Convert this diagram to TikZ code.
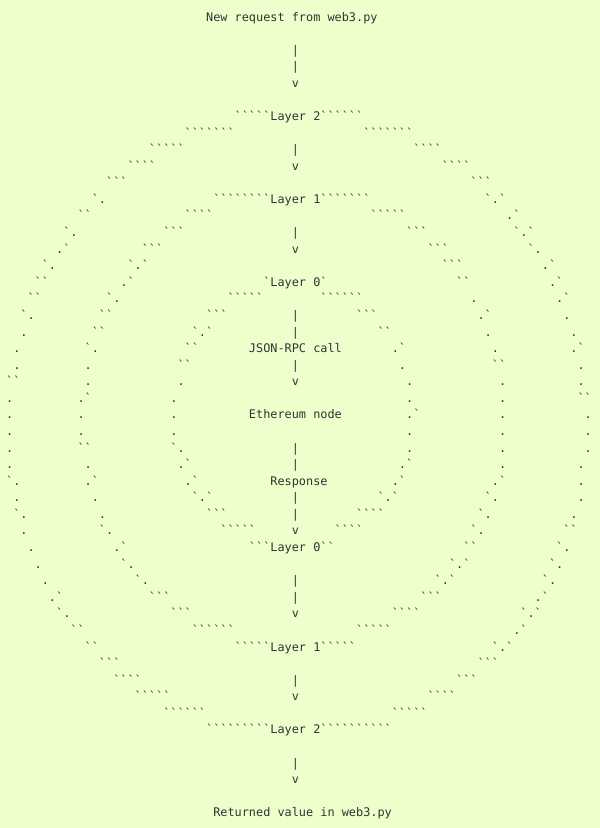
\documentclass[tikz,border=0pt]{standalone}
\usepackage{fontspec}
\newfontfamily\asciifont{DejaVu Sans Mono}[Ligatures=TeXOff]
\definecolor{bgcol}{HTML}{EEFFCC}
\definecolor{txtcol}{HTML}{333333}
\tikzset{
  txt/.style={anchor=base west, inner sep=0pt, outer sep=0pt, text=txtcol,
    font=\asciifont\fontsize{11.864}{14}\selectfont}
}
\newcommand\seg[3]{\node[txt] (r#1c#2) at ({6.13+7.143*#2},{-(21.0+16.58*#1)}) {#3};}
\begin{document}
\begin{tikzpicture}[x=1pt,y=1pt]
\fill[bgcol] (0,0) rectangle (600,-828);
\useasboundingbox (0,0) rectangle (600,-828);
\seg{0}{28}{New request from web3.py}
\seg{2}{40}{|}
\seg{3}{40}{|}
\seg{4}{40}{v}
\seg{6}{32}{`````Layer 2``````}
\seg{7}{25}{```````}\seg{7}{50}{```````}
\seg{8}{20}{`````}\seg{8}{40}{|}\seg{8}{57}{````}
\seg{9}{17}{````}\seg{9}{40}{v}\seg{9}{61}{````}
\seg{10}{14}{```}\seg{10}{65}{```}
\seg{11}{12}{`.}\seg{11}{29}{````````Layer 1```````}\seg{11}{67}{`.`}
\seg{12}{10}{``}\seg{12}{25}{````}\seg{12}{51}{`````}\seg{12}{70}{.`}
\seg{13}{8}{`.}\seg{13}{22}{```}\seg{13}{40}{|}\seg{13}{56}{```}\seg{13}{71}{`.`}
\seg{14}{7}{.`}\seg{14}{19}{```}\seg{14}{40}{v}\seg{14}{59}{```}\seg{14}{73}{`.}
\seg{15}{5}{`.}\seg{15}{17}{`.`}\seg{15}{61}{```}\seg{15}{75}{.`}
\seg{16}{4}{``}\seg{16}{16}{.`}\seg{16}{36}{`Layer 0`}\seg{16}{63}{``}\seg{16}{76}{.`}
\seg{17}{3}{``}\seg{17}{14}{`.}\seg{17}{31}{`````}\seg{17}{44}{``````}\seg{17}{65}{.}\seg{17}{77}{.`}
\seg{18}{2}{`.}\seg{18}{13}{``}\seg{18}{28}{```}\seg{18}{40}{|}\seg{18}{49}{```}\seg{18}{66}{.`}\seg{18}{78}{.}
\seg{19}{2}{.}\seg{19}{12}{``}\seg{19}{26}{`.`}\seg{19}{40}{|}\seg{19}{52}{``}\seg{19}{67}{.}\seg{19}{79}{.}
\seg{20}{1}{.}\seg{20}{11}{`.}\seg{20}{25}{``}\seg{20}{34}{JSON-RPC call}\seg{20}{54}{.`}\seg{20}{68}{.}\seg{20}{79}{.`}
\seg{21}{1}{.}\seg{21}{11}{.}\seg{21}{24}{``}\seg{21}{40}{|}\seg{21}{55}{.}\seg{21}{68}{``}\seg{21}{80}{.}
\seg{22}{0}{``}\seg{22}{11}{.}\seg{22}{24}{.}\seg{22}{40}{v}\seg{22}{56}{.}\seg{22}{69}{.}\seg{22}{80}{.}
\seg{23}{0}{.}\seg{23}{10}{.`}\seg{23}{23}{.}\seg{23}{56}{.}\seg{23}{69}{.}\seg{23}{80}{``}
\seg{24}{0}{.}\seg{24}{10}{.}\seg{24}{23}{.}\seg{24}{34}{Ethereum node}\seg{24}{56}{.`}\seg{24}{69}{.}\seg{24}{81}{.}
\seg{25}{0}{.}\seg{25}{10}{.}\seg{25}{23}{.}\seg{25}{56}{.}\seg{25}{69}{.}\seg{25}{81}{.}
\seg{26}{0}{.}\seg{26}{10}{``}\seg{26}{23}{`.}\seg{26}{40}{|}\seg{26}{56}{.}\seg{26}{69}{.}\seg{26}{81}{.}
\seg{27}{0}{.}\seg{27}{11}{.}\seg{27}{24}{.`}\seg{27}{40}{|}\seg{27}{55}{.`}\seg{27}{69}{.}\seg{27}{80}{.}
\seg{28}{0}{`.}\seg{28}{11}{.`}\seg{28}{25}{.`}\seg{28}{37}{Response}\seg{28}{54}{.`}\seg{28}{68}{.`}\seg{28}{80}{.}
\seg{29}{1}{.}\seg{29}{12}{.}\seg{29}{26}{`.`}\seg{29}{40}{|}\seg{29}{52}{`.`}\seg{29}{67}{`.}\seg{29}{80}{.}
\seg{30}{1}{`.}\seg{30}{13}{.}\seg{30}{28}{```}\seg{30}{40}{|}\seg{30}{49}{````}\seg{30}{66}{`.}\seg{30}{79}{.}
\seg{31}{2}{.}\seg{31}{13}{`.}\seg{31}{30}{`````}\seg{31}{40}{v}\seg{31}{46}{````}\seg{31}{65}{`.}\seg{31}{78}{``}
\seg{32}{3}{.}\seg{32}{15}{.`}\seg{32}{34}{```Layer 0``}\seg{32}{64}{``}\seg{32}{77}{`.}
\seg{33}{4}{.}\seg{33}{16}{`.}\seg{33}{62}{`.`}\seg{33}{76}{`.}
\seg{34}{5}{.}\seg{34}{18}{`.}\seg{34}{40}{|}\seg{34}{60}{`.`}\seg{34}{75}{`.}
\seg{35}{6}{.`}\seg{35}{20}{```}\seg{35}{40}{|}\seg{35}{58}{```}\seg{35}{74}{.`}
\seg{36}{7}{`.}\seg{36}{23}{```}\seg{36}{40}{v}\seg{36}{54}{````}\seg{36}{72}{`.`}
\seg{37}{9}{``}\seg{37}{26}{``````}\seg{37}{49}{`````}\seg{37}{71}{.`}
\seg{38}{11}{``}\seg{38}{32}{`````Layer 1`````}\seg{38}{68}{`.`}
\seg{39}{13}{```}\seg{39}{66}{```}
\seg{40}{15}{````}\seg{40}{40}{|}\seg{40}{63}{```}
\seg{41}{18}{`````}\seg{41}{40}{v}\seg{41}{59}{````}
\seg{42}{22}{``````}\seg{42}{54}{`````}
\seg{43}{28}{`````````Layer 2``````````}
\seg{45}{40}{|}
\seg{46}{40}{v}
\seg{48}{29}{Returned value in web3.py}
\end{tikzpicture}
\end{document}
